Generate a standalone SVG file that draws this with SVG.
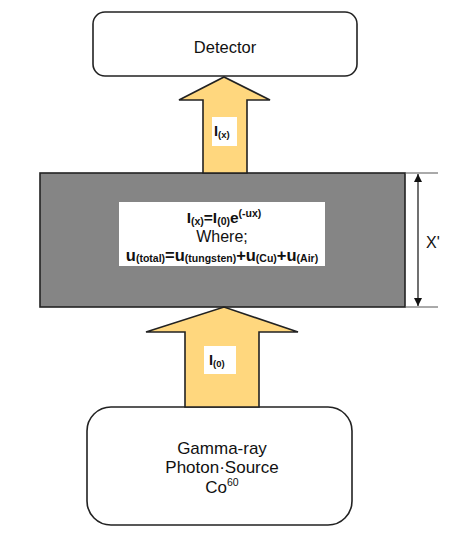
<svg xmlns="http://www.w3.org/2000/svg" width="474" height="533" viewBox="0 0 474 533">
<style>
text{font-family:"Liberation Sans",Arial,sans-serif;fill:#111}
.box{fill:#fff;stroke:#222;stroke-width:1.6}
.arr{fill:#FFD77E;stroke:#222;stroke-width:1.6;stroke-linejoin:miter}
.lbl{fill:#fff}
.b{font-weight:bold}
</style>
<defs>
<marker id="ah" viewBox="0 0 10 10" refX="10" refY="5" markerWidth="8" markerHeight="10" orient="auto-start-reverse" markerUnits="userSpaceOnUse">
<path d="M0,0 L10,5 L0,10 z" fill="#111"/>
</marker>
</defs>
<rect width="474" height="533" fill="#fff"/>
<g id="detector">
<rect class="box" x="93" y="12" width="264" height="64" rx="12"/>
<text x="225" y="53" font-size="16.5" text-anchor="middle">Detector</text>
</g>
<g id="absorber">
<rect x="40" y="173" width="365" height="134" fill="#858585" stroke="#222" stroke-width="1.6"/>
<rect class="lbl" x="119" y="202" width="206" height="64"/>
<text x="224" y="223" text-anchor="middle" class="b" font-size="15.5">I<tspan font-size="10.5" dy="2">(x)</tspan><tspan dy="-2">=I</tspan><tspan font-size="10.5" dy="2">(0)</tspan><tspan dy="-2">e</tspan><tspan font-size="10.5" dy="-6">(-ux)</tspan></text>
<text x="222" y="242" text-anchor="middle" font-size="16">Where;</text>
<text x="222" y="261" text-anchor="middle" class="b" font-size="16.5">u<tspan font-size="10.5" dy="1">(total)</tspan><tspan dy="-1">=u</tspan><tspan font-size="10.5" dy="1">(tungsten)</tspan><tspan dy="-1">+u</tspan><tspan font-size="10.5" dy="1">(Cu)</tspan><tspan dy="-1">+u</tspan><tspan font-size="10.5" dy="1">(Air)</tspan></text>
</g>
<g id="source">
<rect class="box" x="87" y="407" width="265" height="118" rx="24"/>
<text x="222" y="454" font-size="17" text-anchor="middle">Gamma-ray</text>
<text x="222" y="473" font-size="17" text-anchor="middle">Photon·Source</text>
<text x="222" y="493" font-size="17" text-anchor="middle">Co<tspan font-size="10.5" dy="-7">60</tspan></text>
</g>
<g id="connectors">
<g id="arrow-ix">
<path class="arr" d="M203,173 L203,100 L179,100 L224,77 L270,100 L247,100 L247,173 Z"/>
<rect class="lbl" x="212" y="117" width="25" height="29"/>
<text x="214" y="136" class="b" font-size="14.5">I<tspan font-size="9.5" dy="2">(x)</tspan></text>
</g>
<g id="arrow-i0">
<path class="arr" d="M185,407 L185,332 L146,332 L224,307 L298,332 L259,332 L259,407 Z"/>
<rect class="lbl" x="204" y="346" width="32" height="28"/>
<text x="209" y="365" class="b" font-size="14.5">I<tspan font-size="9.5" dy="2">(0)</tspan></text>
</g>
<g id="dimension">
<line x1="405" y1="173" x2="438" y2="173" stroke="#555" stroke-width="1"/>
<line x1="405" y1="307" x2="438" y2="307" stroke="#555" stroke-width="1"/>
<line x1="418" y1="174" x2="418" y2="306" stroke="#111" stroke-width="1.2" marker-start="url(#ah)" marker-end="url(#ah)"/>
<text x="426" y="248" font-size="16">X'</text>
</g>
</g>
</svg>
